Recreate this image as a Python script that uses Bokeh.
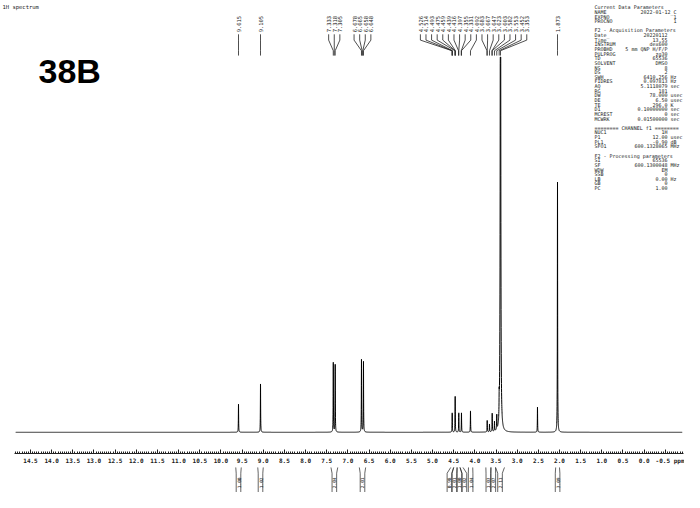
import numpy as np
from bokeh.plotting import figure
from bokeh.models import Range1d, LinearAxis, SingleIntervalTicker, PrintfTickFormatter
from bokeh.layouts import column
from bokeh.embed import file_html
from bokeh.resources import INLINE
from bokeh.core.properties import value

# ---------------- data ----------------
# peak positions (ppm) and intensities (tall peak near 2.05 ppm = 100)
peak_ppm = [9.585, 9.065, 7.345, 7.300, 6.679, 6.632, 4.535, 4.465, 4.380, 4.316,
            4.103, 3.708, 3.654, 3.590, 3.536, 3.482, 3.425, 3.394, 2.520, 2.047]
peak_int = [11.2, 19.3, 27.8, 27.0, 29.0, 28.2, 7.7, 14.3, 7.7, 7.7,
            8.5, 4.6, 3.1, 7.3, 3.9, 5.8, 7.3, 300.0, 10.0, 100.0]

# peak picking labels and the peak positions they point to
label_text = ["9.615", "9.105",
              "7.333", "7.318", "7.305",
              "6.678", "6.665", "6.658", "6.648",
              "4.526", "4.514", "4.493", "4.475", "4.459", "4.439", "4.416", "4.397", "4.355", "4.331",
              "4.092",
              "3.683", "3.667", "3.647", "3.623", "3.603", "3.582", "3.553", "3.452", "3.353",
              "1.873"]
label_anchor = [9.585, 9.065,
                7.345, 7.322, 7.300,
                6.679, 6.663, 6.648, 6.632,
                4.540, 4.535, 4.530, 4.470, 4.465, 4.460, 4.385, 4.380, 4.321, 4.316,
                4.103,
                3.713, 3.708, 3.654, 3.595, 3.590, 3.536, 3.482, 3.425, 3.394,
                2.047]

# integral regions (ppm) and values
integ_hi = [9.65, 9.13, 7.40, 6.73, 4.57, 4.50, 4.42, 4.35, 4.15, 3.74, 3.62, 3.51, 2.09]
integ_lo = [9.52, 9.00, 7.24, 6.58, 4.50, 4.42, 4.35, 4.28, 4.05, 3.62, 3.51, 3.30, 2.00]
integ_val = ["1.00", "1.02", "2.04", "2.01", "0.98", "2.01", "1.00", "1.02", "1.04",
             "1.03", "2.07", "2.11", "3.09"]

unit_label = "ppm"

param_key = ["Current Data Parameters", "NAME", "EXPNO", "PROCNO", "",
             "F2 - Acquisition Parameters", "Date_", "Time", "INSTRUM", "PROBHD",
             "PULPROG", "TD", "SOLVENT", "NS", "DS", "SWH", "FIDRES", "AQ", "RG",
             "DW", "DE", "TE", "D1", "MCREST", "MCWRK", "",
             "======== CHANNEL f1 ========", "NUC1", "P1", "PL1", "SFO1", "",
             "F2 - Processing parameters", "SI", "SF", "WDW", "SSB", "LB", "GB", "PC"]
param_val = ["", "2022-01-12_C", "1", "1", "",
             "", "20220112", "13.55", "dex600", "5 mm QNP H/F/P",
             "zg30", "65536", "DMSO", "8", "2", "6410.256", "0.097813", "5.1118079", "181",
             "78.000", "6.50", "296.0", "0.10000000", "0", "0.01500000", "",
             "", "1H", "12.00", "-0.90", "600.1328065", "",
             "", "65536", "600.1300048", "EM", "0", "0.00", "0", "1.00"]
param_unit = ["", "", "", "", "",
              "", "", "", "", "",
              "", "", "", "", "", "Hz", "Hz", "sec", "",
              "usec", "usec", "K", "sec", "sec", "sec", "",
              "", "", "usec", "dB", "MHz", "",
              "", "", "MHz", "", "", "Hz", "", ""]

# ---------------- layout constants ----------------
W, H_TOP, H_BOT = 684, 466, 26
PPM_L, PPM_R = 15.209, -0.954
I_MIN, I_MAX = -8.49, 172.6
CLIP = 150.0
MONO = value("DejaVu Sans Mono")
INK = "#222222"

px_per_ppm = W / (PPM_L - PPM_R)

# ---------------- spectrum ----------------
grid = np.linspace(14.85, -0.9, 12000)
grid = np.unique(np.concatenate([grid, np.array(peak_ppm)]))[::-1]
spec = np.zeros_like(grid)
for c, h in zip(peak_ppm, peak_int):
    w = 0.006 if h > 150 else 0.0035
    spec += h * w**2 / ((grid - c) ** 2 + w**2)
spec = np.minimum(spec, CLIP)


def spread(anchors, gap):
    order = sorted(range(len(anchors)), key=lambda i: -anchors[i])
    blocks = []
    for i in order:
        blocks.append([[i], anchors[i]])
        while len(blocks) > 1:
            a, b = blocks[-2], blocks[-1]
            a_right = a[1] - (len(a[0]) - 1) * gap / 2
            b_left = b[1] + (len(b[0]) - 1) * gap / 2
            if a_right - b_left < gap:
                idx = a[0] + b[0]
                cen = float(np.mean([anchors[j] for j in idx]))
                blocks[-2:] = [[idx, cen]]
            else:
                break
    pos = [0.0] * len(anchors)
    for idx, cen in blocks:
        k = len(idx)
        for m, j in enumerate(idx):
            pos[j] = cen + (k - 1) * gap / 2 - m * gap
    return pos


# ---------------- top figure ----------------
p = figure(width=W, height=H_TOP, output_backend="svg", toolbar_location=None,
           x_range=Range1d(PPM_L, PPM_R), y_range=Range1d(I_MIN, I_MAX),
           x_axis_location=None, y_axis_location=None, title=None,
           min_border=0, min_border_left=0, min_border_right=0, min_border_top=0,
           min_border_bottom=0)
p.outline_line_color = None
p.grid.visible = False
p.background_fill_color = "white"
p.extra_x_ranges = {"px": Range1d(0, W)}
p.extra_y_ranges = {"px": Range1d(469, 0)}

ax = LinearAxis(ticker=SingleIntervalTicker(interval=0.5, num_minor_ticks=10),
                formatter=PrintfTickFormatter(format="%.1f"),
                bounds=(-0.93, 14.88))
ax.axis_line_color = INK
ax.major_tick_in = 4
ax.major_tick_out = 0
ax.minor_tick_in = 2
ax.minor_tick_out = 0
ax.major_tick_line_color = INK
ax.minor_tick_line_color = INK
ax.major_label_text_font = "DejaVu Sans Mono"
ax.major_label_text_font_size = "6px"
ax.major_label_text_font_style = "bold"
ax.major_label_text_color = INK
ax.major_label_standoff = 3
nb = "\u00a0"
ax.major_label_overrides = {-0.5: nb * 4 + "-0.5" + nb + unit_label}
p.add_layout(ax, "below")

p.line(grid, spec, line_color="black", line_width=1)

# peak labels
gap = 5.6 / px_per_ppm
lpos = spread(label_anchor, gap)
p.text(x=lpos, y=[33] * len(lpos), text=label_text, angle=np.pi / 2,
       text_align="left", text_baseline="middle", y_range_name="px",
       text_font=MONO, text_font_size="5.5px", text_color=INK)
xs, ys = [], []
for lp, an in zip(lpos, label_anchor):
    xs.append([lp, lp, an, an])
    ys.append([35, 41, 52, 57])
p.multi_line(xs, ys, y_range_name="px", line_color=INK, line_width=0.8)

# title texts
p.text(x=[2], y=[7], text=["1H spectrum"], x_range_name="px", y_range_name="px",
       text_font=MONO, text_font_size="5.5px", text_baseline="middle", text_color=INK)
p.text(x=[38], y=[73], text=["38B"], x_range_name="px", y_range_name="px",
       text_font=value("Liberation Sans"), text_font_style="bold",
       text_font_size="34px", text_baseline="alphabetic", text_color="black")

# parameter panel
rows = np.arange(len(param_key))
row_y = 7 + rows * 4.8
sec1 = rows < 4
key_x = [594] * len(param_key)
val_x = [676 if s else 667 for s in sec1]
p.text(x=key_x, y=row_y, text=param_key, x_range_name="px", y_range_name="px",
       text_font=MONO, text_font_size="5px", text_baseline="middle", text_color=INK)
p.text(x=val_x, y=row_y, text=param_val, x_range_name="px", y_range_name="px",
       text_font=MONO, text_font_size="5px", text_baseline="middle", text_align="right",
       text_color=INK)
p.text(x=[670] * len(param_unit), y=row_y, text=param_unit, x_range_name="px",
       y_range_name="px", text_font=MONO, text_font_size="5px", text_baseline="middle",
       text_color=INK)

# ---------------- bottom figure: integrals ----------------
q = figure(width=W, height=H_BOT, output_backend="svg", toolbar_location=None,
           x_range=p.x_range, y_range=Range1d(508, 481),
           x_axis_location=None, y_axis_location=None, title=None,
           min_border=0, min_border_left=0, min_border_right=0, min_border_top=0,
           min_border_bottom=0)
q.outline_line_color = None
q.grid.visible = False

icen = [(a + b) / 2 for a, b in zip(integ_hi, integ_lo)]
igap = 5.0 / px_per_ppm
ipos = spread(icen, igap)
hw = 2.3 / px_per_ppm
bx, by = [], []
for hi, lo, c in zip(integ_hi, integ_lo, ipos):
    bx.append([hi, c + hw, c + hw])
    by.append([482, 488, 510])
    bx.append([lo, c - hw, c - hw])
    by.append([482, 488, 510])
q.multi_line(bx, by, line_color=INK, line_width=0.7)
q.text(x=ipos, y=[498] * len(ipos), text=integ_val, angle=np.pi / 2,
       text_align="center", text_baseline="middle", text_font=MONO,
       text_font_size="4.5px", text_color=INK)

layout = column(p, q)
open("out.html", "w").write(file_html(layout, INLINE))
